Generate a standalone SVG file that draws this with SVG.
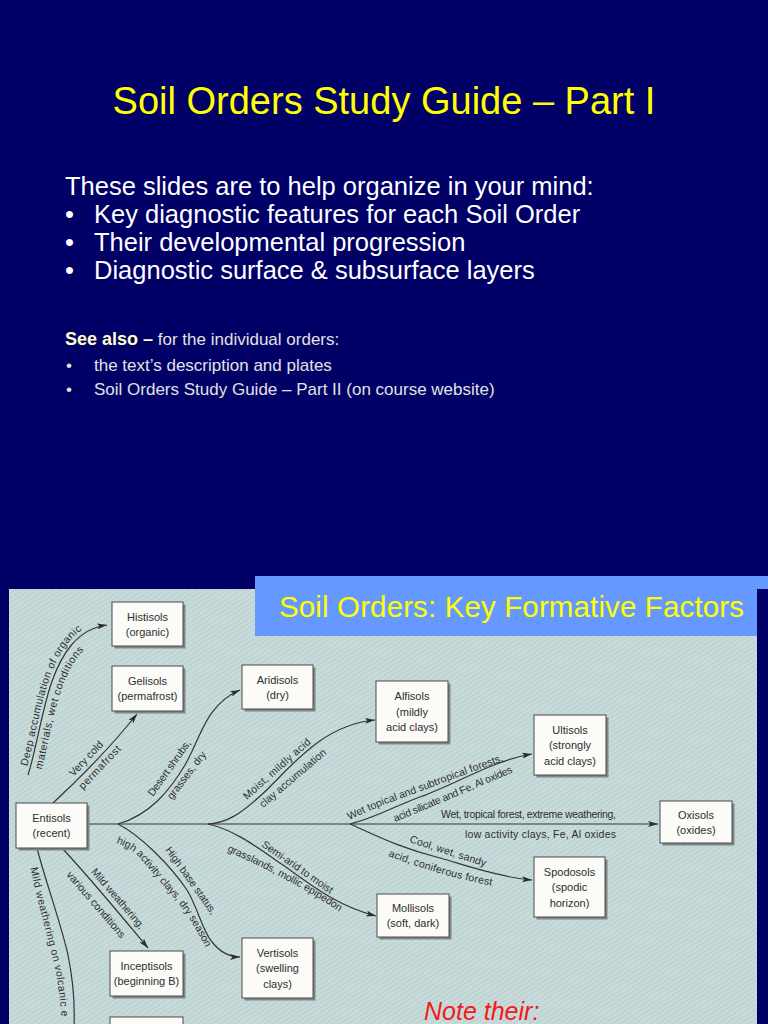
<svg xmlns="http://www.w3.org/2000/svg" width="768" height="1024" viewBox="0 0 768 1024">
<defs>
<style>
.slide{font-family:"Liberation Sans",Arial,sans-serif}
.title{font-size:38px;fill:#FFFF00;text-anchor:middle}
.body{font-size:25.5px;fill:#FFFFFF}
.small{font-size:17px;fill:#E2E2E2}
.nt{font-family:"Liberation Sans",Arial,sans-serif;font-size:11px;fill:#2e2e2e;text-anchor:middle}
.lbl{font-family:"Liberation Sans",Arial,sans-serif;font-size:10.5px;fill:#2e2e2e}
.box{fill:#FBFBF7;stroke:#4a4a4a;stroke-width:1}
.shadow{fill:#7e8686}
.conn{fill:none;stroke:#353535;stroke-width:1.2}
.arr{marker-end:url(#ah)}
</style>
<marker id="ah" viewBox="0 0 10 6" refX="10" refY="3" markerWidth="10" markerHeight="6" markerUnits="userSpaceOnUse" orient="auto">
<path d="M0,0 L10,3 L0,6 L2.5,3 z" fill="#2a2a2a"/>
</marker>
<pattern id="tex" width="4" height="4" patternUnits="userSpaceOnUse" patternTransform="rotate(-32)">
<rect width="4" height="4" fill="#C8DBDB"/>
<line x1="0" y1="0.5" x2="4" y2="0.5" stroke="#BACECE" stroke-width="1"/>
</pattern>
<path id="p1a" d="M25,774 C33,749 38,714 48,683 C59,650 75,626 104,622"/>
<path id="p1b" d="M39,779 C47,754 51,720 61,691 C72,659 87,641 108,637"/>
<path id="p2a" d="M50.8,800.9 L134.8,711.9"/>
<path id="p2b" d="M62.5,811.9 L146.5,722.9"/>
<path id="p3a" d="M153,797 L192,742"/>
<path id="p3b" d="M172,800 L208,753"/>
<path id="p4a" d="M247,800 L319,736"/>
<path id="p4b" d="M263,808 L337,745"/>
<path id="p5a" d="M349,820 C370,810 385,804 400,799 C430,788 470,772 512,758"/>
<path id="p5b" d="M395,822 C420,812 440,803 460,795 C480,786 500,778 518,770"/>
<path id="p7a" d="M409,842 C430,849 460,859 490,868"/>
<path id="p7b" d="M388,856 C415,866 450,878 494,886"/>
<path id="p8a" d="M261,846 L336,898"/>
<path id="p8b" d="M227,851 C260,866 300,885 343,914"/>
<path id="p9a" d="M165,850 L215,920"/>
<path id="p9b" d="M116,843 C128,847 134,852 140,858 L168,891 C178,902 188,915 195,928 C202,940 207,950 212,962"/>
<path id="p10a" d="M66.5,844 L152.5,944"/>
<path id="p10b" d="M51,857.5 L137,957.5"/>
<path id="p11" d="M30,866 C37,900 47,935 55,968 C59,990 61,1008 62,1024"/>
</defs>

<rect x="0" y="0" width="768" height="1024" fill="#000066"/>

<g id="slide-text" class="slide">
<text class="title" x="384" y="114">Soil Orders Study Guide – Part I</text>
<text class="body" x="65" y="195">These slides are to help organize in your mind:</text>
<text class="body" x="65" y="223">•</text><text class="body" x="94" y="223">Key diagnostic features for each Soil Order</text>
<text class="body" x="65" y="251">•</text><text class="body" x="94" y="251">Their developmental progression</text>
<text class="body" x="65" y="279">•</text><text class="body" x="94" y="279">Diagnostic surface &amp; subsurface layers</text>
<text x="65" y="345"><tspan style="font-weight:bold;font-size:18px;fill:#FFFFCC">See also –</tspan><tspan style="fill:#E2E2E2;font-size:17px"> for the individual orders:</tspan></text>
<text class="small" x="66" y="371">•</text><text class="small" x="94" y="371">the text’s description and plates</text>
<text class="small" x="66" y="395">•</text><text class="small" x="94" y="395">Soil Orders Study Guide – Part II (on course website)</text>
</g>

<rect id="panel" x="9" y="589" width="748" height="440" fill="url(#tex)"/>

<g id="panel-title">
<rect x="255" y="576" width="513" height="60" fill="#6699FF"/>
<text x="279" y="617" textLength="465" style="font-family:'Liberation Sans',Arial,sans-serif;font-size:29.5px;fill:#FFFF00">Soil Orders: Key Formative Factors</text>
</g>

<g id="connectors">
<path class="conn arr" d="M28,775 C36,750 41,715 51,684 C62,652 78,629 107,625"/>
<path class="conn arr" d="M53,803 C80,778 110,748 137,714"/>
<path class="conn arr" d="M118,824 C150,815 170,790 185,765 C200,740 205,705 240,690"/>
<path class="conn arr" d="M208,824 C228,823 242,812 258,798 C285,775 318,725 375,720"/>
<path class="conn arr" d="M350,824 C375,818 395,806 420,797 C460,782 495,760 532,754"/>
<path class="conn arr" d="M87,824 L658,824"/>
<path class="conn arr" d="M350,824 C375,835 400,848 440,858 C475,868 505,878 532,880"/>
<path class="conn arr" d="M208,824 C235,830 258,848 283,865 C310,884 335,905 376,916"/>
<path class="conn arr" d="M118,824 C140,835 170,865 187,890 C198,908 202,930 212,942 C220,952 230,957 240,957"/>
<path class="conn arr" d="M62,848 C90,878 118,912 148,948"/>
<path class="conn" d="M37,848 C45,880 60,920 68,955 C73,980 75,1005 74,1026"/>
</g>

<g id="connector-labels" class="lbl">
<text><textPath href="#p1a" startOffset="8" textLength="150">Deep accumulation of organic</textPath></text>
<text><textPath href="#p1b" startOffset="10" textLength="128">materials, wet conditions</textPath></text>
<text><textPath href="#p2a" startOffset="33" textLength="44">Very cold</textPath></text>
<text><textPath href="#p2b" startOffset="30" textLength="56">permafrost</textPath></text>
<text><textPath href="#p3a" textLength="66">Desert shrubs,</textPath></text>
<text><textPath href="#p3b" textLength="57">grasses, dry</textPath></text>
<text><textPath href="#p4a" textLength="86">Moist, mildly acid</textPath></text>
<text><textPath href="#p4b" textLength="84">clay accumulation</textPath></text>
<text><textPath href="#p5a" textLength="166">Wet topical and subtropical forests,</textPath></text>
<text><textPath href="#p5b" textLength="128">acid silicate and Fe, Al oxides</textPath></text>
<text x="441" y="818" textLength="175">Wet, tropical forest, extreme weathering,</text>
<text x="465" y="838" textLength="151">low activity clays, Fe, Al oxides</text>
<text><textPath href="#p7a" textLength="80">Cool, wet, sandy</textPath></text>
<text><textPath href="#p7b" textLength="108">acid, coniferous forest</textPath></text>
<text><textPath href="#p8a" textLength="84">Semi-arid to moist</textPath></text>
<text><textPath href="#p8b" textLength="128">grasslands, mollic epipedon</textPath></text>
<text><textPath href="#p9a" textLength="80">High base status,</textPath></text>
<text><textPath href="#p9b" textLength="140">high activity clays, dry season</textPath></text>
<text><textPath href="#p10a" startOffset="37" textLength="76">Mild weathering,</textPath></text>
<text><textPath href="#p10b" startOffset="23" textLength="84">various conditions</textPath></text>
<text><textPath href="#p11" startOffset="2" textLength="152">Mild weathering on volcanic e</textPath></text>
</g>

<g id="histisols"><rect class="shadow" x="114.5" y="604.5" width="71" height="44"/><rect class="box" x="112" y="602" width="71" height="44"/><text class="nt" x="147.5" y="621">Histisols</text><text class="nt" x="147.5" y="636">(organic)</text></g>
<g id="gelisols"><rect class="shadow" x="114.5" y="668.5" width="71" height="45"/><rect class="box" x="112" y="666" width="71" height="45"/><text class="nt" x="147.5" y="685">Gelisols</text><text class="nt" x="147.5" y="700">(permafrost)</text></g>
<g id="aridisols"><rect class="shadow" x="244.5" y="667.5" width="71" height="44"/><rect class="box" x="242" y="665" width="71" height="44"/><text class="nt" x="277.5" y="684">Aridisols</text><text class="nt" x="277.5" y="699">(dry)</text></g>
<g id="alfisols"><rect class="shadow" x="378.5" y="683.5" width="72" height="61"/><rect class="box" x="376" y="681" width="72" height="61"/><text class="nt" x="412" y="700">Alfisols</text><text class="nt" x="412" y="715.5">(mildly</text><text class="nt" x="412" y="731">acid clays)</text></g>
<g id="ultisols"><rect class="shadow" x="536.5" y="717.5" width="72" height="60"/><rect class="box" x="534" y="715" width="72" height="60"/><text class="nt" x="570" y="733.5">Ultisols</text><text class="nt" x="570" y="749">(strongly</text><text class="nt" x="570" y="764.5">acid clays)</text></g>
<g id="entisols"><rect class="shadow" x="18.5" y="805.5" width="71" height="45"/><rect class="box" x="16" y="803" width="71" height="45"/><text class="nt" x="51.5" y="822">Entisols</text><text class="nt" x="51.5" y="837">(recent)</text></g>
<g id="oxisols"><rect class="shadow" x="662.5" y="803.5" width="72" height="42"/><rect class="box" x="660" y="801" width="72" height="42"/><text class="nt" x="696" y="818.5">Oxisols</text><text class="nt" x="696" y="833.5">(oxides)</text></g>
<g id="spodosols"><rect class="shadow" x="536.5" y="859.5" width="71" height="60"/><rect class="box" x="534" y="857" width="71" height="60"/><text class="nt" x="569.5" y="875.5">Spodosols</text><text class="nt" x="569.5" y="891">(spodic</text><text class="nt" x="569.5" y="906.5">horizon)</text></g>
<g id="mollisols"><rect class="shadow" x="379.5" y="896.5" width="72" height="43"/><rect class="box" x="377" y="894" width="72" height="43"/><text class="nt" x="413" y="912">Mollisols</text><text class="nt" x="413" y="927">(soft, dark)</text></g>
<g id="vertisols"><rect class="shadow" x="244.5" y="940.5" width="71" height="60"/><rect class="box" x="242" y="938" width="71" height="60"/><text class="nt" x="277.5" y="956.5">Vertisols</text><text class="nt" x="277.5" y="972">(swelling</text><text class="nt" x="277.5" y="987.5">clays)</text></g>
<g id="inceptisols"><rect class="shadow" x="112.5" y="953.5" width="73" height="45"/><rect class="box" x="110" y="951" width="73" height="45"/><text class="nt" x="146.5" y="970">Inceptisols</text><text class="nt" x="146.5" y="985">(beginning B)</text></g>
<g id="partial-node"><rect class="box" x="110" y="1017" width="73" height="14"/></g>

<rect x="757" y="589" width="11" height="435" fill="#000066"/>

<text id="note" x="424" y="1020" style="font-family:'Liberation Sans',Arial,sans-serif;font-size:25px;font-style:italic;fill:#F21A1A">Note their:</text>
</svg>
